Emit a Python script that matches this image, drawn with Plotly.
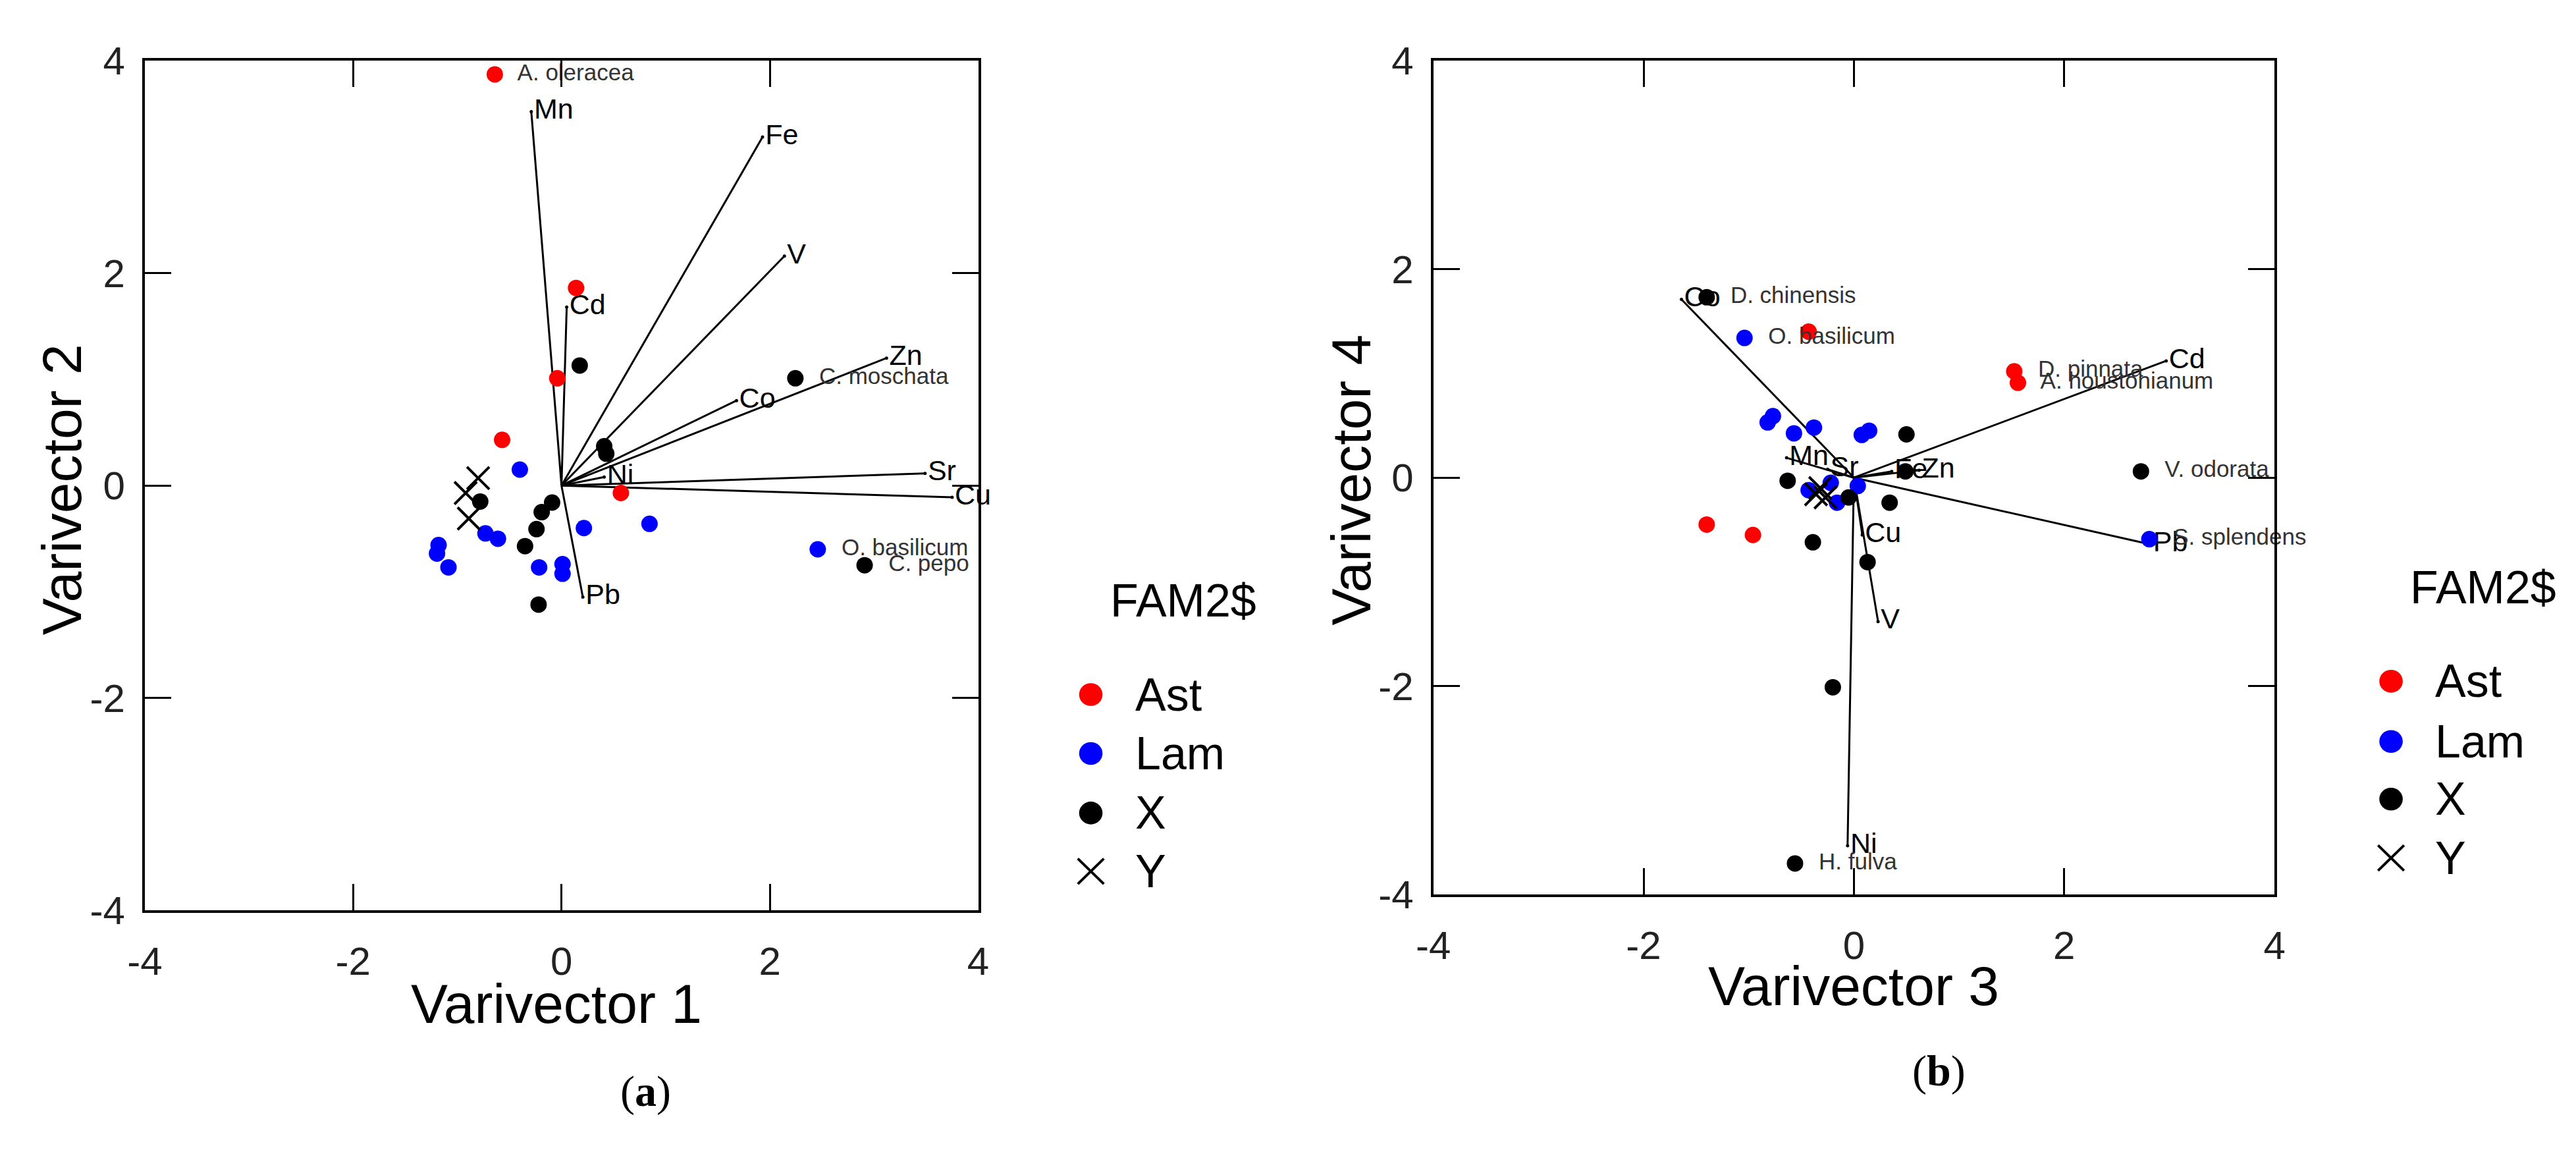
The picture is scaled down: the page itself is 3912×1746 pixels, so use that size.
import plotly.graph_objects as go

W, H = 3912, 1746

# ---------------- panel (a): Varivector 1 vs Varivector 2 ----------------
a_ast_x = [-0.64, 0.14, -0.04, -0.57, 0.57]
a_ast_y = [3.87, 1.86, 1.01, 0.43, -0.07]
a_ast_lab = ["A. oleracea", "", "", "", ""]

a_lam_x = [-0.40, -0.73, -0.61, -1.18, -1.195, -1.085, -0.215, 0.01, 0.01, 0.215, 0.845, 2.46]
a_lam_y = [0.15, -0.45, -0.50, -0.56, -0.64, -0.77, -0.77, -0.74, -0.83, -0.40, -0.36, -0.60]
a_lam_lab = ["", "", "", "", "", "", "", "", "", "", "", "O. basilicum"]

a_x_x = [0.175, 0.41, 0.43, 2.245, 2.91, -0.09, -0.19, -0.24, -0.35, -0.78, -0.22]
a_x_y = [1.13, 0.37, 0.30, 1.01, -0.75, -0.16, -0.25, -0.41, -0.57, -0.15, -1.12]
a_x_lab = ["", "", "", "C. moschata", "C. pepo", "", "", "", "", "", ""]

a_y_x = [-0.80, -0.92, -0.89]
a_y_y = [0.07, -0.07, -0.31]

a_vec_names = ["Mn", "Fe", "V", "Cd", "Zn", "Co", "Ni", "Sr", "Cu", "Pb"]
a_vec_x = [-0.29, 1.93, 2.14, 0.05, 3.12, 1.68, 0.41, 3.49, 3.75, 0.205]
a_vec_y = [3.52, 3.28, 2.16, 1.68, 1.20, 0.80, 0.08, 0.115, -0.11, -1.05]

# ---------------- panel (b): Varivector 3 vs Varivector 4 ----------------
b_ast_x = [-0.43, 1.525, 1.56, -1.40, -0.96]
b_ast_y = [1.40, 1.02, 0.91, -0.45, -0.55]
b_ast_lab = ["", "D. pinnata", "A. houstonianum", "", ""]

b_lam_x = [-1.04, -0.82, -0.77, -0.57, -0.38, 0.075, 0.145, -0.43, -0.22, -0.16, 0.037, 2.81]
b_lam_y = [1.34, 0.53, 0.59, 0.425, 0.48, 0.41, 0.45, -0.12, -0.05, -0.24, -0.08, -0.59]
b_lam_lab = ["O. basilicum", "", "", "", "", "", "", "", "", "", "", "S. splendens"]

b_x_x = [-1.40, 0.50, 0.49, -0.63, -0.05, 0.34, -0.39, 0.13, 2.73, -0.20, -0.56]
b_x_y = [1.73, 0.415, 0.06, -0.03, -0.19, -0.24, -0.62, -0.81, 0.06, -2.01, -3.70]
b_x_lab = ["D. chinensis", "", "", "", "", "", "", "", "V. odorata", "", "H. fulva"]

b_y_x = [-0.32, -0.27, -0.36]
b_y_y = [-0.10, -0.19, -0.16]

b_vec_names = ["Co", "Mn", "Sr", "Fe", "Zn", "Cd", "Pb", "Cu", "V", "Ni"]
b_vec_x = [-1.64, -0.64, -0.25, 0.36, 0.62, 2.97, 2.82, 0.08, 0.23, -0.06]
b_vec_y = [1.71, 0.19, 0.08, 0.06, 0.07, 1.12, -0.64, -0.55, -1.38, -3.53]

groups = ["Ast", "Lam", "X", "Y"]
colors = {"Ast": "#ff0000", "Lam": "#0000ff", "X": "#000000", "Y": "#000000"}

FONT = "Liberation Sans"


def px(x):
    return x / W


def py(y):
    return 1 - y / H


def add_panel(fig, xa, ya, ast, lam, xx, yy, vec_names, vec_x, vec_y):
    # varivector lines drawn from the origin
    lx, ly = [], []
    for vx, vy in zip(vec_x, vec_y):
        lx += [0, vx, None]
        ly += [0, vy, None]
    fig.add_trace(go.Scatter(x=lx, y=ly, mode="lines", xaxis=xa, yaxis=ya,
                             line=dict(color="black", width=3), showlegend=False,
                             hoverinfo="skip"))
    fig.add_trace(go.Scatter(x=vec_x, y=vec_y, mode="markers+text", xaxis=xa, yaxis=ya,
                             text=vec_names, textposition="middle right",
                             marker=dict(color="black", size=5),
                             textfont=dict(family=FONT, size=43, color="black"),
                             cliponaxis=False, showlegend=False))
    for name, (gx, gy, glab) in zip(["Ast", "Lam", "X"], [ast, lam, xx]):
        fig.add_trace(go.Scatter(x=gx, y=gy, mode="markers+text", xaxis=xa, yaxis=ya,
                                 text=["  " + t if t else "" for t in glab],
                                 textposition="middle right",
                                 textfont=dict(family=FONT, size=35, color="#333333"),
                                 marker=dict(color=colors[name], size=25),
                                 cliponaxis=False, name=name, showlegend=False))
    fig.add_trace(go.Scatter(x=yy[0], y=yy[1], mode="markers", xaxis=xa, yaxis=ya,
                             marker=dict(symbol="x-thin", size=34,
                                         line=dict(color="black", width=4)),
                             name="Y", showlegend=False))


fig = go.Figure()
add_panel(fig, "x", "y",
          (a_ast_x, a_ast_y, a_ast_lab), (a_lam_x, a_lam_y, a_lam_lab),
          (a_x_x, a_x_y, a_x_lab), (a_y_x, a_y_y),
          a_vec_names, a_vec_x, a_vec_y)
add_panel(fig, "x2", "y2",
          (b_ast_x, b_ast_y, b_ast_lab), (b_lam_x, b_lam_y, b_lam_lab),
          (b_x_x, b_x_y, b_x_lab), (b_y_x, b_y_y),
          b_vec_names, b_vec_x, b_vec_y)

axis_common = dict(range=[-4, 4], tickvals=[-4, -2, 0, 2, 4], ticktext=["-4", "-2", "0", "2", "4"],
                   showgrid=False, zeroline=False, showline=True, linecolor="black", linewidth=4,
                   mirror="ticks", ticks="inside", ticklen=40, tickwidth=3, tickcolor="black",
                   tickfont=dict(family=FONT, size=60, color="#222222"))

fig.update_layout(
    width=W, height=H, margin=dict(l=0, r=0, t=0, b=0),
    paper_bgcolor="white", plot_bgcolor="white", showlegend=False,
    xaxis=dict(domain=[px(187), px(1467)], anchor="y", ticklabelstandoff=22, **axis_common),
    yaxis=dict(domain=[py(1395), py(53)], anchor="x", ticklabelstandoff=14, **axis_common),
    xaxis2=dict(domain=[px(2166), px(3458)], anchor="y2", ticklabelstandoff=22, **axis_common),
    yaxis2=dict(domain=[py(1370), py(53)], anchor="x2", ticklabelstandoff=14, **axis_common),
)

annotations = []
shapes = []

# axis titles and panel letters
for txt, x, y, ang in [("Varivector 1", 819, 1542, 0), ("Varivector 2", 60, 730, -90),
                       ("Varivector 3", 2812, 1514, 0), ("Varivector 4", 2040, 715, -90)]:
    annotations.append(dict(text=txt, x=px(x), y=py(y), xref="paper", yref="paper",
                            showarrow=False, textangle=ang, xanchor="center", yanchor="middle",
                            font=dict(family=FONT, size=84, color="black")))
for txt, x, y in [("(<b>a</b>)", 956, 1681), ("(<b>b</b>)", 2943, 1648)]:
    annotations.append(dict(text=txt, x=px(x), y=py(y), xref="paper", yref="paper",
                            showarrow=False, xanchor="center", yanchor="middle",
                            font=dict(family="Liberation Serif", size=66, color="black")))

# legends (one per panel)
for mx, tx, title_x, title_y, rows in [(1640, 1706, 1782, 906, [1054, 1147, 1241, 1333]),
                                         (3637, 3703, 3778, 885, [1033, 1128, 1219, 1312])]:
    annotations.append(dict(text="FAM2$", x=px(title_x), y=py(title_y), xref="paper", yref="paper",
                            showarrow=False, xanchor="center", yanchor="middle",
                            font=dict(family=FONT, size=70, color="black")))
    r = 18
    for g, ry in zip(groups, rows):
        annotations.append(dict(text=g, x=px(tx), y=py(ry), xref="paper", yref="paper",
                                showarrow=False, xanchor="left", yanchor="middle",
                                font=dict(family=FONT, size=70, color="black")))
        if g == "Y":
            for s in (1, -1):
                shapes.append(dict(type="line", xref="paper", yref="paper",
                                   x0=px(mx - 20), x1=px(mx + 20),
                                   y0=py(ry - 20 * s), y1=py(ry + 20 * s),
                                   line=dict(color="black", width=4)))
        else:
            shapes.append(dict(type="circle", xref="paper", yref="paper",
                               x0=px(mx - r), x1=px(mx + r), y0=py(ry + r), y1=py(ry - r),
                               fillcolor=colors[g], line=dict(width=0)))

fig.update_layout(annotations=annotations, shapes=shapes)

fig.write_html("out.html")
